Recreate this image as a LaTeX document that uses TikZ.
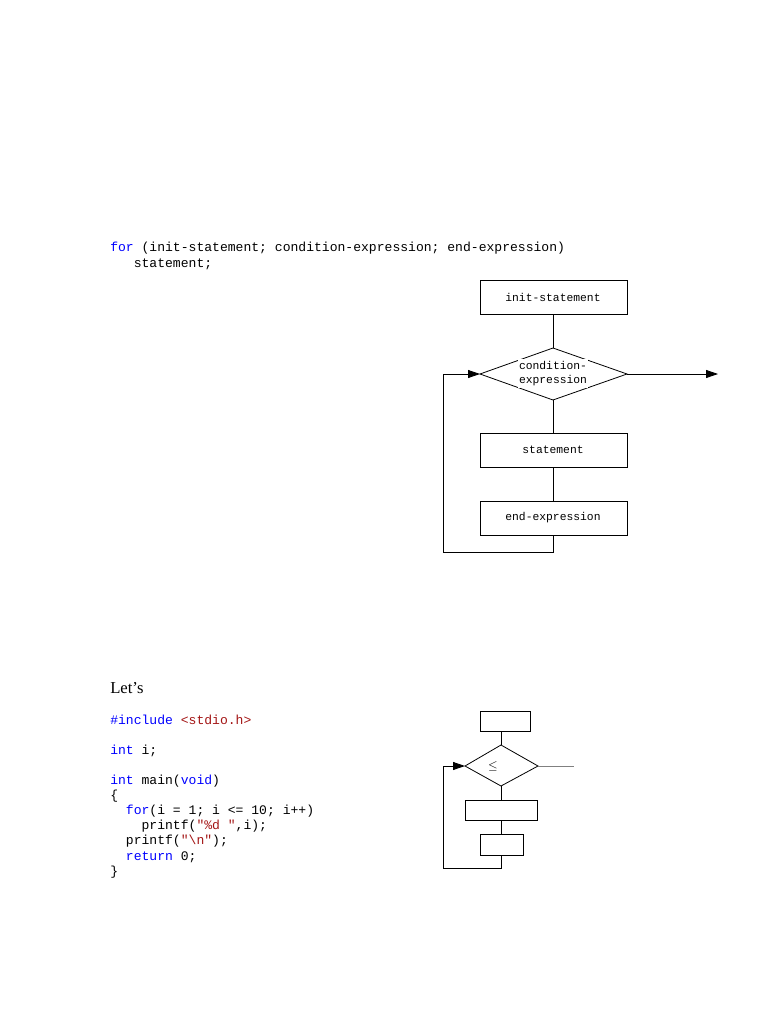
\documentclass[tikz,border=0pt]{standalone}
\usepackage{fontspec}
\setmainfont{Liberation Serif}
\setmonofont{Liberation Mono}
\usetikzlibrary{arrows.meta}
\definecolor{kw}{RGB}{0,0,255}
\definecolor{str}{RGB}{163,21,21}
\begin{document}
\begin{tikzpicture}[x=0.75pt,y=-0.75pt,
  box/.style={draw,line width=0.6pt},
  lbl/.style={font=\ttfamily\fontsize{8.5}{10}\selectfont,inner sep=0pt},
  code/.style={anchor=base west,inner sep=0pt,font=\ttfamily\fontsize{9.8}{11}\selectfont},
  ln/.style={line width=0.6pt},
  arr/.style={ln,-{Triangle[length=9pt,width=6pt]}}]
\useasboundingbox (0,0) rectangle (768,1024);
% top code
\node[code] (c1) at (110,251) {\textcolor{kw}{for} (init-statement; condition-expression; end-expression)};
\node[code] (c2) at (110,267) {\ \ \ statement;};
% top flowchart
\draw[box] (480,280) rectangle (627,314);
\node[lbl] (init) at (553,297) {init-statement};
\coordinate (initb) at (553,314);
\draw[box] (480,374) -- (553,348) -- (627,374) -- (553,400) -- cycle;
\coordinate (dl) at (480,374); \coordinate (dr) at (627,374);
\coordinate (dt) at (553,348); \coordinate (db) at (553,400);
\node[lbl,fill=white,inner sep=1pt] (cond1) at (553,365) {condition-};
\node[lbl,fill=white,inner sep=1pt] (cond2) at (553,381) {expression};
\draw[box] (480,433) rectangle (627,467);
\node[lbl] (stmt) at (553,450) {statement};
\draw[box] (480,501) rectangle (627,535);
\node[lbl] (endx) at (553,518) {end-expression};
\coordinate (out) at (718,374);
\draw[ln] (initb) -- (dt);
\draw[ln] (db) -- (553,433);
\draw[ln] (553,467) -- (553,501);
\draw[arr] (dr) -- (out);
\draw[arr] (553,535) -- (553,552) -- (443,552) -- (443,374) -- (dl);
% bottom
\node[anchor=base west,inner sep=0pt,font=\fontsize{12.5}{14}\selectfont] (lets) at (110,693) {Let’s};
\node[code] (l1) at (110,724) {\textcolor{kw}{\#include} \textcolor{str}{<stdio.h>}};
\node[code] (l2) at (110,754) {\textcolor{kw}{int} i;};
\node[code] (l3) at (110,784) {\textcolor{kw}{int} main(\textcolor{kw}{void})};
\node[code] (l4) at (110,799) {\{};
\node[code] (l5) at (110,814) {\ \ \textcolor{kw}{for}(i = 1; i <= 10; i++)};
\node[code] (l6) at (110,829) {\ \ \ \ printf(\textcolor{str}{"\%d "},i);};
\node[code] (l7) at (110,844) {\ \ printf(\textcolor{str}{"\textbackslash n"});};
\node[code] (l8) at (110,860) {\ \ \textcolor{kw}{return} 0;};
\node[code] (l9) at (110,875) {\}};
% bottom flowchart
\draw[box] (480,711) rectangle (530,731);
\draw[box] (465,766) -- (501,745) -- (538,766) -- (501,786) -- cycle;
\node[inner sep=0pt,font=\fontsize{9}{10}\selectfont] (le) at (493,766) {$\leq$};
\draw[box] (465,800) rectangle (537,820);
\draw[box] (480,834) rectangle (523,855);
\draw[ln] (501,731) -- (501,745);
\draw[ln] (501,786) -- (501,800);
\draw[ln] (501,820) -- (501,834);
\draw[ln,gray] (538,766) -- (574,766);
\draw[arr] (501,855) -- (501,868) -- (443,868) -- (443,766) -- (465,766);
\end{tikzpicture}
\end{document}
